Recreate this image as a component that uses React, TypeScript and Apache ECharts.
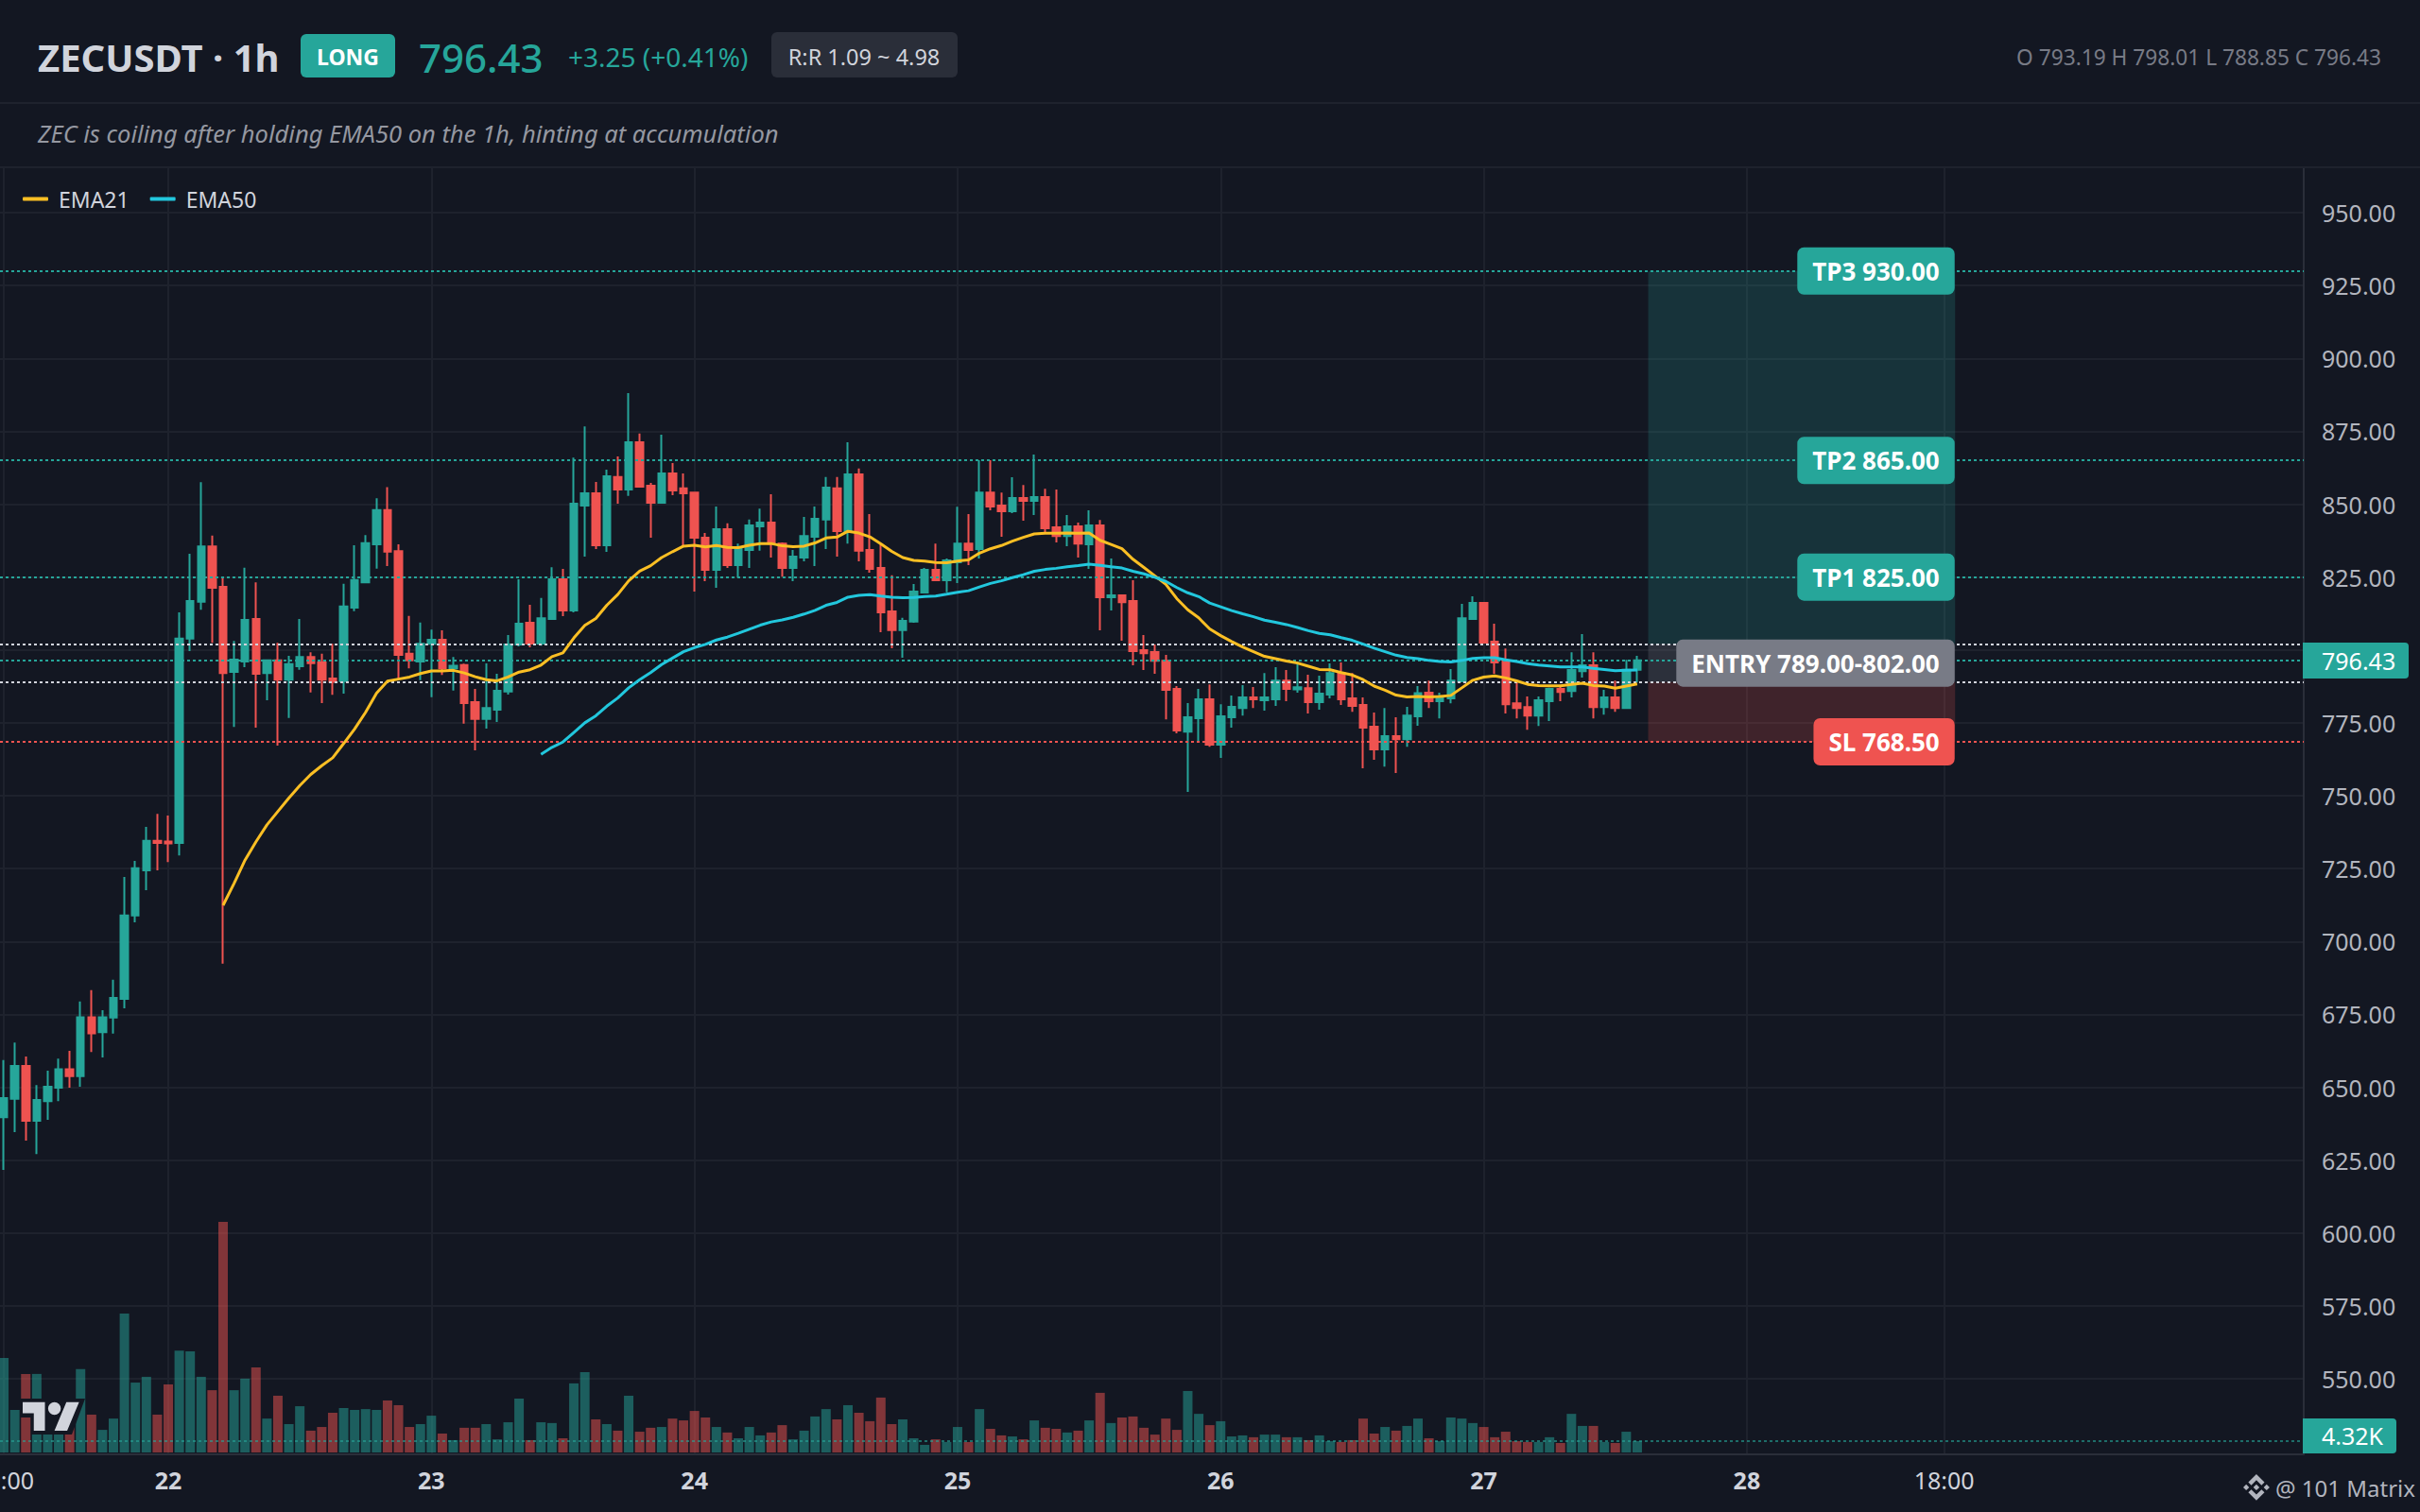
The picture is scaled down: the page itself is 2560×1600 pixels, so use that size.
import React, { useEffect, useRef } from "react";
import * as echarts from "echarts";

const FONT = '"Noto Sans", sans-serif';
const BG = "#131722";
const GREEN = "#26a69a";
const RED = "#ef5350";
const GRID = "#1e222d";
const BORDER = "#2a2e39";
const TEXT = "#d1d4dc";

const FIRST_HOUR = -15;

const opens = [639.7,646.0,657.3,638.5,645.2,649.8,656.2,653.8,674.0,668.9,673.9,680.3,708.9,724.4,734.5,
734.3,733.8,803.9,816.5,835.5,821.6,792.5,796.0,810.6,792.1,
796.4,789.8,794.4,797.6,795.7,790.2,789.3,814.5,823.2,836.2,
848.0,833.9,798.7,796.0,802.1,803.5,793.7,794.8,782.1,776.3,
779.5,785.7,801.9,809.3,802.2,810.6,824.2,813.5,849.5,853.7,
835.9,859.3,855.0,871.2,856.3,850.5,860.5,855.4,854.0,838.5,
827.5,841.4,829.1,834.3,842.4,843.7,836.5,828.1,831.7,838.8,
844.7,855.4,840.8,860.2,834.3,828.1,813.2,806.8,809.7,819.7,
827.5,823.9,830.1,836.5,834.6,854.0,849.5,847.6,852.1,851.1,
852.4,842.1,839.1,842.4,836.2,842.7,818.1,818.7,816.8,799.9,
799.3,796.3,786.6,772.0,776.6,783.1,767.5,776.9,780.1,783.7,
782.7,783.1,789.5,786.5,786.9,782.1,784.7,792.1,783.4,781.1,
773.7,765.9,770.4,769.4,777.2,785.3,782.4,783.4,789.2,810.6,
816.1,802.8,796.0,781.7,780.4,777.5,782.4,786.6,785.9,792.7,
794.7,780.4,783.7,780.1,793.19];

const closes = [646.3,657.3,638.5,645.6,650.2,656.2,653.8,674.0,668.5,674.0,680.6,708.9,725.1,734.5,733.8,
733.6,803.9,816.8,835.5,821.3,792.1,796.7,810.3,791.8,796.4,
789.8,795.1,797.6,795.5,789.8,789.1,814.9,824.0,836.6,848.0,
833.7,798.3,796.4,802.1,803.5,793.7,794.6,781.8,776.3,780.1,
786.0,801.9,809.0,802.2,810.9,824.2,813.5,850.2,853.7,835.9,
859.6,855.0,871.2,856.0,850.5,860.5,854.7,853.7,838.5,827.5,
841.4,829.1,834.6,842.7,843.7,836.5,828.1,832.0,839.1,845.0,
855.7,840.8,860.2,834.0,827.8,812.9,806.8,810.0,820.0,827.5,
823.9,830.7,836.5,834.3,854.0,849.2,847.6,852.1,851.1,852.4,
841.7,839.1,842.4,836.5,842.7,818.1,818.7,816.4,799.6,798.9,
796.3,786.3,772.4,776.9,783.1,767.5,777.2,780.5,783.7,783.1,
783.7,789.5,786.6,787.2,782.1,785.0,792.1,783.1,780.8,773.3,
765.9,770.4,769.4,777.5,785.2,782.4,783.4,789.5,810.9,816.1,
802.5,795.7,781.4,780.1,777.5,782.7,786.6,785.6,793.1,794.7,
780.4,783.7,780.1,793.18,796.43];

const lows = [621.6,634.6,631.7,627.1,638.8,645.2,649.8,650.2,662.1,660.2,668.4,677.1,706.6,717.6,724.4,
727.2,729.5,799.6,813.8,802.4,692.4,773.6,794.1,773.3,782.7,
767.2,776.7,793.2,785.4,781.8,784.6,785.0,813.3,823.2,827.9,
828.8,790.2,793.7,789.6,783.8,791.4,786.1,774.7,765.6,773.0,
775.3,784.7,801.2,800.9,801.5,810.3,811.6,812.9,832.0,834.6,
833.6,850.2,852.8,855.7,838.5,850.2,853.1,835.9,820.0,823.6,
821.3,828.1,824.9,828.1,834.0,831.7,825.1,823.6,830.4,828.8,
834.6,832.0,836.5,830.4,826.5,806.1,800.6,797.3,809.3,819.4,
823.9,819.8,822.9,829.1,831.4,847.9,838.8,846.9,844.3,846.3,
840.1,836.9,835.6,831.7,827.8,806.7,813.5,803.2,794.7,793.1,
791.8,776.2,771.4,751.3,768.8,766.8,763.0,773.3,777.5,780.1,
779.2,780.8,782.4,785.3,778.2,779.5,783.4,781.1,778.8,759.4,
762.3,760.0,757.8,766.8,774.0,780.1,776.5,781.7,789.2,810.3,
802.2,791.8,778.2,776.5,772.6,773.9,775.6,782.4,783.7,790.5,
776.5,777.8,778.8,780.1,788.85];

const highs = [659.3,665.3,660.5,650.7,655.7,659.8,662.5,679.4,683.3,676.4,686.9,722.1,727.6,739.3,743.8,
743.2,812.9,833.0,857.5,839.2,825.0,803.1,828.2,823.2,796.7,
802.4,798.0,810.6,799.2,798.7,802.1,822.7,835.9,839.4,852.0,
855.8,836.2,811.7,809.4,807.0,806.7,797.6,795.3,786.6,795.4,
791.8,805.1,824.2,815.5,817.8,828.4,827.8,866.0,876.7,857.6,
861.8,866.4,888.1,874.2,857.3,873.8,864.1,860.5,854.0,840.1,
849.2,843.4,836.5,844.7,848.5,853.4,836.9,834.3,845.6,849.2,
859.3,859.3,871.2,862.2,846.6,836.2,825.6,811.0,822.6,828.1,
836.5,831.4,849.1,846.6,865.1,865.1,854.0,859.2,856.6,867.0,
855.3,855.0,846.3,843.7,847.9,844.6,831.4,818.7,823.9,805.1,
801.9,798.3,787.6,781.8,786.6,788.2,781.4,784.4,787.9,787.3,
792.1,794.1,793.1,796.0,791.5,791.2,795.4,795.7,792.1,783.7,
778.5,780.1,776.9,780.5,787.6,789.5,785.3,793.4,815.8,818.4,
816.4,809.0,800.5,788.9,784.0,784.0,787.0,788.0,799.2,805.4,
799.2,786.3,789.5,796.6,798.01];

const volumes = [36.0,16.2,29.9,29.9,15.7,14.5,10.9,31.7,14.4,8.6,12.9,52.9,26.6,28.8,14.4,
25.9,38.8,38.5,28.8,23.7,87.8,23.7,28.1,32.4,12.9,
21.6,10.8,17.6,8.3,9.7,15.1,16.9,16.2,16.5,16.2,
19.8,18.0,9.7,10.8,14.0,7.2,4.7,9.4,9.4,10.8,
5.0,11.5,20.5,4.7,11.5,11.2,5.4,26.3,30.6,12.6,
10.8,8.3,21.6,7.9,9.4,9.7,12.9,12.2,15.8,13.3,
9.7,7.6,5.4,9.7,6.5,7.6,10.4,5.0,8.3,13.7,
16.5,12.6,18.0,15.1,11.9,20.9,10.8,12.6,5.4,2.9,
5.0,4.0,9.7,4.0,16.5,9.0,6.5,6.1,5.0,12.2,
9.4,9.0,7.6,8.3,12.2,22.7,11.2,13.3,13.7,9.4,
6.8,12.9,8.6,23.4,14.7,10.4,11.9,6.1,6.5,5.8,
6.8,6.8,5.8,5.8,4.7,6.5,4.3,4.0,4.7,12.9,
7.2,9.7,8.3,10.1,12.9,5.4,4.3,13.3,12.9,11.2,
9.7,5.8,7.9,4.3,4.0,4.0,5.8,3.6,14.7,10.1,
10.1,4.0,3.6,7.9,4.32];

const EMA21_FIRST_HOUR = 5;
const ema21 = [712.4,719.9,727.9,734.2,740.0,744.6,749.2,753.5,757.3,760.3,763.0,767.9,772.9,778.6,785.2,789.3,790.0,790.7,791.9,792.8,792.8,793.0,792.1,
790.8,789.8,789.4,790.7,792.4,793.2,794.8,797.7,799.0,804.1,808.4,810.8,815.3,819.0,823.7,827.0,828.9,831.7,833.7,835.6,835.9,835.3,835.8,835.2,835.1,835.9,836.5,836.5,835.7,835.4,835.6,836.7,838.4,838.7,840.7,840.1,838.8,836.4,833.8,831.7,830.7,830.5,830.0,
829.9,830.5,830.9,833.2,834.7,835.8,837.3,838.6,839.8,840.0,840.0,840.1,840.0,840.1,837.6,836.2,834.7,831.1,828.3,825.4,822.5,817.6,813.8,811.0,807.2,804.9,802.9,801.0,799.4,797.8,797.0,796.2,795.5,794.4,793.3,793.2,792.2,791.4,789.8,787.6,786.2,784.5,783.9,
784.0,783.9,784.0,784.4,787.0,789.6,790.7,791.1,790.4,789.4,788.2,787.8,787.7,787.7,788.2,788.6,787.8,787.6,786.9,787.6,788.3];

const EMA50_FIRST_HOUR = 34;
const ema50 = [764.2,766.6,768.4,771.7,775.0,777.4,780.7,783.5,787.0,789.8,792.2,795.0,797.2,799.4,800.8,801.9,803.4,804.4,805.7,807.1,808.5,809.6,810.3,811.2,812.3,813.6,815.3,816.3,818.1,818.7,819.0,818.5,818.1,817.9,818.0,818.3,818.5,
819.1,819.8,820.3,821.6,822.8,823.7,824.8,825.8,827.0,827.6,828.0,828.5,828.9,829.4,829.0,828.5,828.1,827.0,826.1,824.9,823.5,821.4,819.6,818.3,816.1,814.8,813.5,812.4,811.4,810.2,809.5,808.7,807.7,806.6,805.7,805.2,804.2,803.3,802.0,800.6,799.4,798.2,797.4,
797.0,796.4,796.0,795.9,796.4,797.1,797.3,797.3,796.6,796.0,795.3,794.8,794.5,794.2,794.2,794.2,793.7,793.3,792.9,793.0,793.1];

const priceTicks = [550,575,600,625,650,675,700,725,750,775,800,825,850,875,900,925,950];
const timeTickHours = [-15,0,24,48,72,96,120,144,162];
const timeTickLabels = ["09:00","22","23","24","25","26","27","28","18:00"];

const TP3 = 930, TP2 = 865, TP1 = 825, ENTRY_HIGH = 802, ENTRY_LOW = 789, SL = 768.5;
const LAST_PRICE = 796.43;
const LAST_VOLUME = 4.32;
const ZONE_START_HOUR = 135, ZONE_END_HOUR = 163;

echarts.graphic.registerShape(
  "binanceLogo",
  echarts.graphic.extendPath(
    "M38.73 53.2l24.59-24.58 24.6 24.6 14.3-14.31L63.32 0 24.43 38.9l14.3 14.3z M0 63.31l14.3-14.31 14.31 14.31-14.31 14.3z M38.73 73.41l24.59 24.59 24.6-24.6 14.31 14.29-38.9 38.91-38.91-38.88v-.03l14.31-14.28z M98.28 63.32l14.3-14.31 14.31 14.3-14.31 14.32z M77.83 63.3L63.32 48.78 52.59 59.51l-1.24 1.23-2.54 2.54 14.51 14.5 14.51-14.47z",
    {}
  )
);
echarts.graphic.registerShape(
  "tvLogo",
  echarts.graphic.extendPath(
    "M14 22H7V11H0V4h14v18zM28 22h-8l7.5-18h8L28 22zM16 8a4 4 0 1 0 8 0a4 4 0 1 0 -8 0z",
    {}
  )
);

function txt(x: number, y: number, text: string, fontSize: number, fill: string, extra: any = {}, align = "left") {
  return {
    type: "text",
    x,
    y,
    z: 20,
    silent: true,
    style: { text, fontSize, fill, fontFamily: FONT, align, verticalAlign: "middle", ...extra },
  };
}

function tagLabel(text: string, bg: string, hPad: number) {
  return {
    show: true,
    position: "left",
    distance: 0,
    formatter: text,
    color: "#ffffff",
    fontFamily: FONT,
    fontWeight: "bold",
    fontSize: 26,
    lineHeight: 30,
    backgroundColor: bg,
    borderRadius: 7,
    padding: [10, hPad, 10, hPad],
  };
}

function level(y: number, color: string) {
  return { yAxis: y, lineStyle: { color, width: 2, type: [3, 3] } };
}

function tag(y: number, text: string, bg: string, hPad: number) {
  return { coord: [ZONE_END_HOUR, y], symbol: "circle", symbolSize: 1, itemStyle: { color: "transparent" }, label: tagLabel(text, bg, hPad) };
}

export default function App() {
  const ref = useRef<HTMLDivElement>(null);
  useEffect(() => {
    document.body.style.margin = "0";
    document.body.style.background = BG;
    document.body.style.overflow = "hidden";
    const chart = echarts.init(ref.current!, undefined, { renderer: "svg" });
    const hours = opens.map((_, k) => FIRST_HOUR + k);
    const fmt = (n: number) => n.toFixed(2);
    chart.setOption({
      animation: false,
      backgroundColor: BG,
      legend: {
        left: 19,
        top: 194,
        itemWidth: 27,
        itemHeight: 4,
        itemGap: 22,
        icon: "roundRect",
        data: ["EMA21", "EMA50"],
        selectedMode: false,
        textStyle: { color: TEXT, fontFamily: FONT, fontSize: 23, padding: [0, 0, 0, 6] },
      },
      grid: { left: 0, right: 123, top: 177, bottom: 61, containLabel: false, outerBoundsMode: "none" },
      xAxis: {
        type: "value",
        min: -15.35,
        max: 194.8,
        axisLine: { show: true, onZero: false, lineStyle: { color: BORDER, width: 2 } },
        axisTick: { show: false, customValues: timeTickHours },
        splitLine: { show: true, lineStyle: { color: GRID, width: 2 } },
        axisLabel: {
          customValues: timeTickHours,
          color: TEXT,
          fontFamily: FONT,
          fontSize: 25,
          margin: 14,
          hideOverlap: false,
          formatter: (v: number) => {
            const s = timeTickLabels[timeTickHours.indexOf(v)] ?? "";
            return s.includes(":") ? s : `{d|${s}}`;
          },
          rich: { d: { fontWeight: "bold", fontFamily: FONT, fontSize: 25, color: TEXT } },
        },
      },
      yAxis: [
        {
          type: "value",
          position: "right",
          min: 524.07,
          max: 965.56,
          axisLine: { show: true, onZero: false, lineStyle: { color: BORDER, width: 2 } },
          axisTick: { show: false, customValues: priceTicks },
          splitLine: { show: true, lineStyle: { color: GRID, width: 2 } },
          axisLabel: {
            customValues: priceTicks,
            color: "#b2b5be",
            fontFamily: FONT,
            fontSize: 25,
            margin: 19,
            padding: [0, 0, 3, 0],
            formatter: (v: number) => fmt(v),
          },
        },
        { type: "value", min: -0.72, max: 489.2, show: false, splitLine: { show: false } },
      ],
      series: [
        {
          name: "Volume",
          type: "bar",
          yAxisIndex: 1,
          z: 1,
          barWidth: 10,
          data: hours.map((h, k) => ({
            value: [h, volumes[k]],
            itemStyle: { color: closes[k] >= opens[k] ? "rgba(38,166,154,0.5)" : "rgba(239,83,80,0.5)" },
          })),
          markLine: {
            silent: true,
            symbol: "none",
            label: { show: false },
            data: [{ yAxis: LAST_VOLUME, lineStyle: { color: "rgba(38,166,154,0.6)", width: 2, type: [3, 3] } }],
          },
        },
        {
          name: "ZECUSDT",
          type: "candlestick",
          z: 2,
          barWidth: 8,
          encode: { x: 0, y: [1, 2, 3, 4] },
          itemStyle: { color: GREEN, color0: RED, borderColor: GREEN, borderColor0: RED, borderWidth: 2 },
          data: hours.map((h, k) => [h, opens[k], closes[k], lows[k], highs[k]]),
          markArea: {
            silent: true,
            z: 1,
            label: { show: false },
            data: [
              [{ xAxis: ZONE_START_HOUR, yAxis: TP3, itemStyle: { color: "rgba(38,166,154,0.2)" } }, { xAxis: ZONE_END_HOUR, yAxis: ENTRY_HIGH }],
              [{ xAxis: ZONE_START_HOUR, yAxis: ENTRY_HIGH, itemStyle: { color: "rgba(120,123,134,0.25)" } }, { xAxis: ZONE_END_HOUR, yAxis: ENTRY_LOW }],
              [{ xAxis: ZONE_START_HOUR, yAxis: ENTRY_LOW, itemStyle: { color: "rgba(239,83,80,0.2)" } }, { xAxis: ZONE_END_HOUR, yAxis: SL }],
            ],
          },
          markLine: {
            silent: true,
            z: 5,
            symbol: "none",
            label: { show: false },
            data: [
              level(TP3, GREEN),
              level(TP2, GREEN),
              level(TP1, GREEN),
              level(LAST_PRICE, GREEN),
              level(ENTRY_HIGH, TEXT),
              level(ENTRY_LOW, TEXT),
              level(SL, RED),
            ],
          },
          markPoint: {
            silent: true,
            z: 10,
            data: [
              tag(TP3, `TP3 ${fmt(TP3)}`, GREEN, 16),
              tag(TP2, `TP2 ${fmt(TP2)}`, GREEN, 16),
              tag(TP1, `TP1 ${fmt(TP1)}`, GREEN, 16),
              tag((ENTRY_HIGH + ENTRY_LOW) / 2, `ENTRY ${fmt(ENTRY_LOW)}-${fmt(ENTRY_HIGH)}`, "#787b86", 16),
              tag(SL, `SL ${fmt(SL)}`, RED, 16),
            ],
          },
        },
        {
          name: "EMA21",
          type: "line",
          z: 6,
          symbol: "none",
          itemStyle: { color: "#fbbf24" },
          lineStyle: { color: "#fbbf24", width: 3 },
          data: ema21.map((v, k) => [EMA21_FIRST_HOUR + k, v]),
        },
        {
          name: "EMA50",
          type: "line",
          z: 6,
          symbol: "none",
          itemStyle: { color: "#22c7dd" },
          lineStyle: { color: "#22c7dd", width: 3 },
          data: ema50.map((v, k) => [EMA50_FIRST_HOUR + k, v]),
        },
      ],
      graphic: {
        elements: [
          { type: "rect", shape: { x: 0, y: 108, width: 2560, height: 2 }, style: { fill: GRID }, z: 20, silent: true },
          { type: "rect", shape: { x: 0, y: 176, width: 2560, height: 2 }, style: { fill: GRID }, z: 20, silent: true },
          txt(40, 60, "ZECUSDT · 1h", 40, TEXT, { fontWeight: "bold" }),
          { type: "rect", shape: { x: 318, y: 36, width: 100, height: 46, r: 6 }, style: { fill: GREEN }, z: 20, silent: true },
          txt(368, 60, "LONG", 23, "#ffffff", { fontWeight: "bold" }, "center"),
          txt(443, 60, "796.43", 42, GREEN, { fontWeight: 500 }),
          txt(601, 60, "+3.25 (+0.41%)", 28, GREEN),
          { type: "rect", shape: { x: 816, y: 34, width: 197, height: 48, r: 6 }, style: { fill: BORDER }, z: 20, silent: true },
          txt(914, 60, "R:R 1.09 ~ 4.98", 23.5, TEXT, {}, "center"),
          txt(2519, 60, "O 793.19 H 798.01 L 788.85 C 796.43", 22.7, "#787b86", {}, "right"),
          txt(40, 141, "ZEC is coiling after holding EMA50 on the 1h, hinting at accumulation", 25.5, "#9598a1", { fontStyle: "italic" }),
          { type: "rect", shape: { x: 2436, y: 680, width: 112, height: 38, r: [0, 4, 4, 0] }, style: { fill: GREEN }, z: 20, silent: true },
          txt(2456, 699, fmt(LAST_PRICE), 25, "#ffffff"),
          { type: "rect", shape: { x: 2436, y: 1501, width: 99, height: 37, r: [0, 4, 4, 0] }, style: { fill: GREEN }, z: 20, silent: true },
          txt(2456, 1519, `${LAST_VOLUME}K`, 25, "#ffffff"),
          { type: "polygon", shape: { points: [[22, 1480], [90, 1480], [76, 1518], [33, 1518], [33, 1500], [22, 1500]] }, style: { fill: BG }, z: 20, silent: true },
          { type: "tvLogo", x: 24, y: 1477, scaleX: 1.68, scaleY: 1.68, style: { fill: TEXT }, z: 21, silent: true },
          { type: "binanceLogo", x: 2373, y: 1560, scaleX: 0.22, scaleY: 0.22, style: { fill: "#b2b5be" }, z: 21, silent: true },
          txt(2407, 1574, "@ 101 Matrix", 24, "#b2b5be"),
        ],
      },
    });
    return () => chart.dispose();
  }, []);
  return <div ref={ref} style={{ width: 2560, height: 1600 }} />;
}
